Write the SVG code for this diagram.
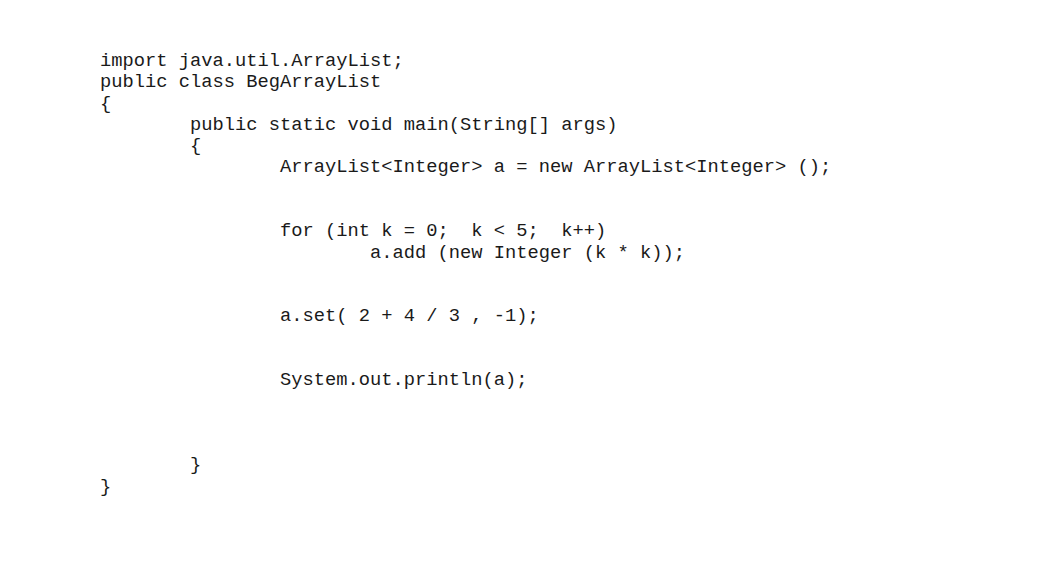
<svg xmlns="http://www.w3.org/2000/svg" width="1042" height="568" viewBox="0 0 1042 568">
<style>text{font-family:"Liberation Mono","DejaVu Sans Mono",monospace;font-size:18.75px;fill:#1a1a1a;white-space:pre}</style>
<rect width="1042" height="568" fill="#fff"/>
<g id="code" xml:space="preserve">
<text x="100" y="66">import java.util.ArrayList;</text>
<text x="100" y="87">public class BegArrayList</text>
<text x="100" y="109">{</text>
<text x="190" y="130">public static void main(String[] args)</text>
<text x="190" y="151">{</text>
<text x="280" y="172">ArrayList&lt;Integer&gt; a = new ArrayList&lt;Integer&gt; ();</text>
<text x="280" y="236">for (int k = 0;  k &lt; 5;  k++)</text>
<text x="370" y="258">a.add (new Integer (k * k));</text>
<text x="280" y="321">a.set( 2 + 4 / 3 , -1);</text>
<text x="280" y="385">System.out.println(a);</text>
<text x="190" y="470">}</text>
<text x="100" y="492">}</text>
</g>
</svg>
